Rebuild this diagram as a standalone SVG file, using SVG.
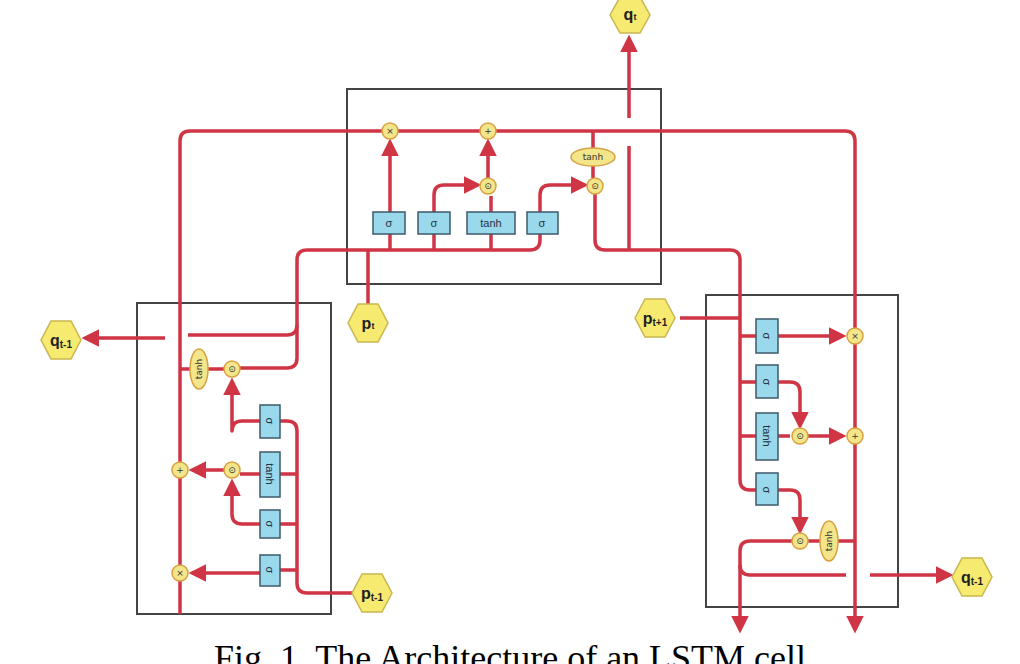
<svg xmlns="http://www.w3.org/2000/svg" width="1020" height="664" viewBox="0 0 1020 664">
<style>
.w{fill:none;stroke:#d03545;stroke-width:3.5;stroke-linejoin:round}
.frame{fill:none;stroke:#444;stroke-width:2}
.g rect{fill:#9ad8ec;stroke:#3d5a6a;stroke-width:1.5}
.g text{font-family:"Liberation Sans",sans-serif;font-size:11px;fill:#234;text-anchor:middle;dominant-baseline:central}
.op circle,.op ellipse{fill:#f3e58a;stroke:#d9a040;stroke-width:1.5}
.op text{font-family:"DejaVu Sans",sans-serif;font-size:9px;fill:#333;text-anchor:middle;dominant-baseline:central}
.hx polygon{fill:#f6ea70;stroke:#c9b650;stroke-width:1.5}
.hx text{font-family:"Liberation Sans",sans-serif;font-size:16px;font-weight:bold;fill:#222;text-anchor:middle;dominant-baseline:central}
</style>
<defs><marker id="a" markerWidth="5" markerHeight="5" refX="4" refY="2.5" orient="auto" markerUnits="strokeWidth"><path d="M0,0L5,2.5L0,5z" fill="#d03545"/></marker></defs>
<rect class="frame" x="347" y="89" width="314" height="195"/>
<rect class="frame" x="137" y="303" width="194" height="311"/>
<rect class="frame" x="706" y="295" width="192" height="312"/>
<g id="connectors">
<path class="w" d="M180,614V141q0,-10 10,-10H845q10,0 10,10V630" marker-end="url(#a)"/>
<path class="w" d="M629,250V146M629,118V38" marker-end="url(#a)"/>
<path class="w" d="M368,305V250M297,358V260q0,-10 10,-10H530q10,0 10,-10V195q0,-10 10,-10H585" marker-end="url(#a)"/>
<path class="w" d="M390,250V142" marker-end="url(#a)"/>
<path class="w" d="M434,250V195q0,-10 10,-10H478" marker-end="url(#a)"/>
<path class="w" d="M491,250V196M488,178V142" marker-end="url(#a)"/>
<path class="w" d="M593,131V148M593,166V178"/>
<path class="w" d="M595,194V240q0,10 10,10H730q10,0 10,10V480q0,10 10,10H756M740,318H680M740,336H756M740,382H756M740,436H756"/>
<path class="w" d="M778,336H843" marker-end="url(#a)"/>
<path class="w" d="M778,382H790q10,0 10,10V426" marker-end="url(#a)"/>
<path class="w" d="M778,436H790M808,436H843" marker-end="url(#a)"/>
<path class="w" d="M778,490H790q10,0 10,10V531" marker-end="url(#a)"/>
<path class="w" d="M808,541H821M837,541H855"/>
<path class="w" d="M792,541H750q-10,0 -10,10V630" marker-end="url(#a)"/>
<path class="w" d="M740,565q0,10 10,10H846M870,575H950" marker-end="url(#a)"/>
<path class="w" d="M297,358q0,10 -10,10H240M224,369H208M190,369H180"/>
<path class="w" d="M188,335H287q10,0 10,-10"/>
<path class="w" d="M165,338H85" marker-end="url(#a)"/>
<path class="w" d="M280,421H287q10,0 10,10V583q0,10 10,10H355M280,474H297M280,524H297M280,570H297"/>
<path class="w" d="M260,421H242q-10,0 -10,10V381" marker-end="url(#a)"/>
<path class="w" d="M260,474H240M224,470H192" marker-end="url(#a)"/>
<path class="w" d="M260,524H242q-10,0 -10,-10V482" marker-end="url(#a)"/>
<path class="w" d="M260,573H192" marker-end="url(#a)"/>
</g>
<g class="g">
<g id="g1"><rect x="373" y="212" width="32" height="22"/><text x="389" y="223">σ</text></g>
<g id="g2"><rect x="418" y="212" width="32" height="22"/><text x="434" y="223">σ</text></g>
<g id="g3"><rect x="467" y="212" width="48" height="22"/><text x="491" y="223">tanh</text></g>
<g id="g4"><rect x="527" y="212" width="31" height="22"/><text x="542" y="223">σ</text></g>
<g id="l1"><rect x="260" y="405" width="20" height="33"/><text x="270" y="421" transform="rotate(90 270 421)">σ</text></g>
<g id="l2"><rect x="260" y="452" width="20" height="45"/><text x="270" y="474" transform="rotate(90 270 474)">tanh</text></g>
<g id="l3"><rect x="260" y="510" width="20" height="28"/><text x="270" y="524" transform="rotate(90 270 524)">σ</text></g>
<g id="l4"><rect x="260" y="555" width="20" height="31"/><text x="270" y="570" transform="rotate(90 270 570)">σ</text></g>
<g id="r1"><rect x="756" y="319" width="22" height="34"/><text x="767" y="336" transform="rotate(90 767 336)">σ</text></g>
<g id="r2"><rect x="756" y="365" width="22" height="33"/><text x="767" y="382" transform="rotate(90 767 382)">σ</text></g>
<g id="r3"><rect x="756" y="413" width="22" height="47"/><text x="767" y="436" transform="rotate(90 767 436)">tanh</text></g>
<g id="r4"><rect x="756" y="473" width="22" height="32"/><text x="767" y="490" transform="rotate(90 767 490)">σ</text></g>
</g>
<g class="op">
<g id="o1"><circle cx="390" cy="131" r="8"/><text x="390" y="131">×</text></g>
<g id="o2"><circle cx="488" cy="131" r="8"/><text x="488" y="131">+</text></g>
<g id="o3"><circle cx="488" cy="186" r="8"/><text x="488" y="186">⊙</text></g>
<g id="o4"><circle cx="595" cy="186" r="8"/><text x="595" y="186">⊙</text></g>
<g id="o5"><ellipse cx="593" cy="157" rx="22" ry="9"/><text x="593" y="157">tanh</text></g>
<g id="o6"><circle cx="232" cy="369" r="8"/><text x="232" y="369">⊙</text></g>
<g id="o7"><ellipse cx="199" cy="369" rx="9" ry="20"/><text x="199" y="369" transform="rotate(-90 199 369)">tanh</text></g>
<g id="o8"><circle cx="232" cy="470" r="8"/><text x="232" y="470">⊙</text></g>
<g id="o9"><circle cx="180" cy="470" r="8"/><text x="180" y="470">+</text></g>
<g id="o10"><circle cx="180" cy="573" r="8"/><text x="180" y="573">×</text></g>
<g id="o11"><circle cx="855" cy="336" r="8"/><text x="855" y="336">×</text></g>
<g id="o12"><circle cx="800" cy="436" r="8"/><text x="800" y="436">⊙</text></g>
<g id="o13"><circle cx="855" cy="436" r="8"/><text x="855" y="436">+</text></g>
<g id="o14"><circle cx="800" cy="541" r="8"/><text x="800" y="541">⊙</text></g>
<g id="o15"><ellipse cx="829" cy="541" rx="9" ry="20"/><text x="829" y="541" transform="rotate(-90 829 541)">tanh</text></g>
</g>
<g class="hx">
<g id="ht"><polygon points="610,15 620,-3 640,-3 650,15 640,33 620,33"/><text x="630" y="14">q<tspan font-size="9" dy="3">t</tspan></text></g>
<g id="pt"><polygon points="348,323 358,304 378,304 388,323 378,342 358,342"/><text x="368" y="323">p<tspan font-size="9" dy="3">t</tspan></text></g>
<g id="qm"><polygon points="41,340 51,321 71,321 81,340 71,359 51,359"/><text x="61" y="340">q<tspan font-size="10" dy="4">t-1</tspan></text></g>
<g id="pm"><polygon points="352,593 362,574 382,574 392,593 382,612 362,612"/><text x="372" y="593">p<tspan font-size="10" dy="4">t-1</tspan></text></g>
<g id="pp"><polygon points="635,318 645,299 665,299 675,318 665,337 645,337"/><text x="655" y="318">p<tspan font-size="10" dy="4">t+1</tspan></text></g>
<g id="qp"><polygon points="952,577 962,558 982,558 992,577 982,596 962,596"/><text x="972" y="577">q<tspan font-size="10" dy="4">t-1</tspan></text></g>
</g>
<text x="510" y="670" font-family="Liberation Serif,serif" font-size="36" text-anchor="middle">Fig. 1. The Architecture of an LSTM cell</text>
</svg>
